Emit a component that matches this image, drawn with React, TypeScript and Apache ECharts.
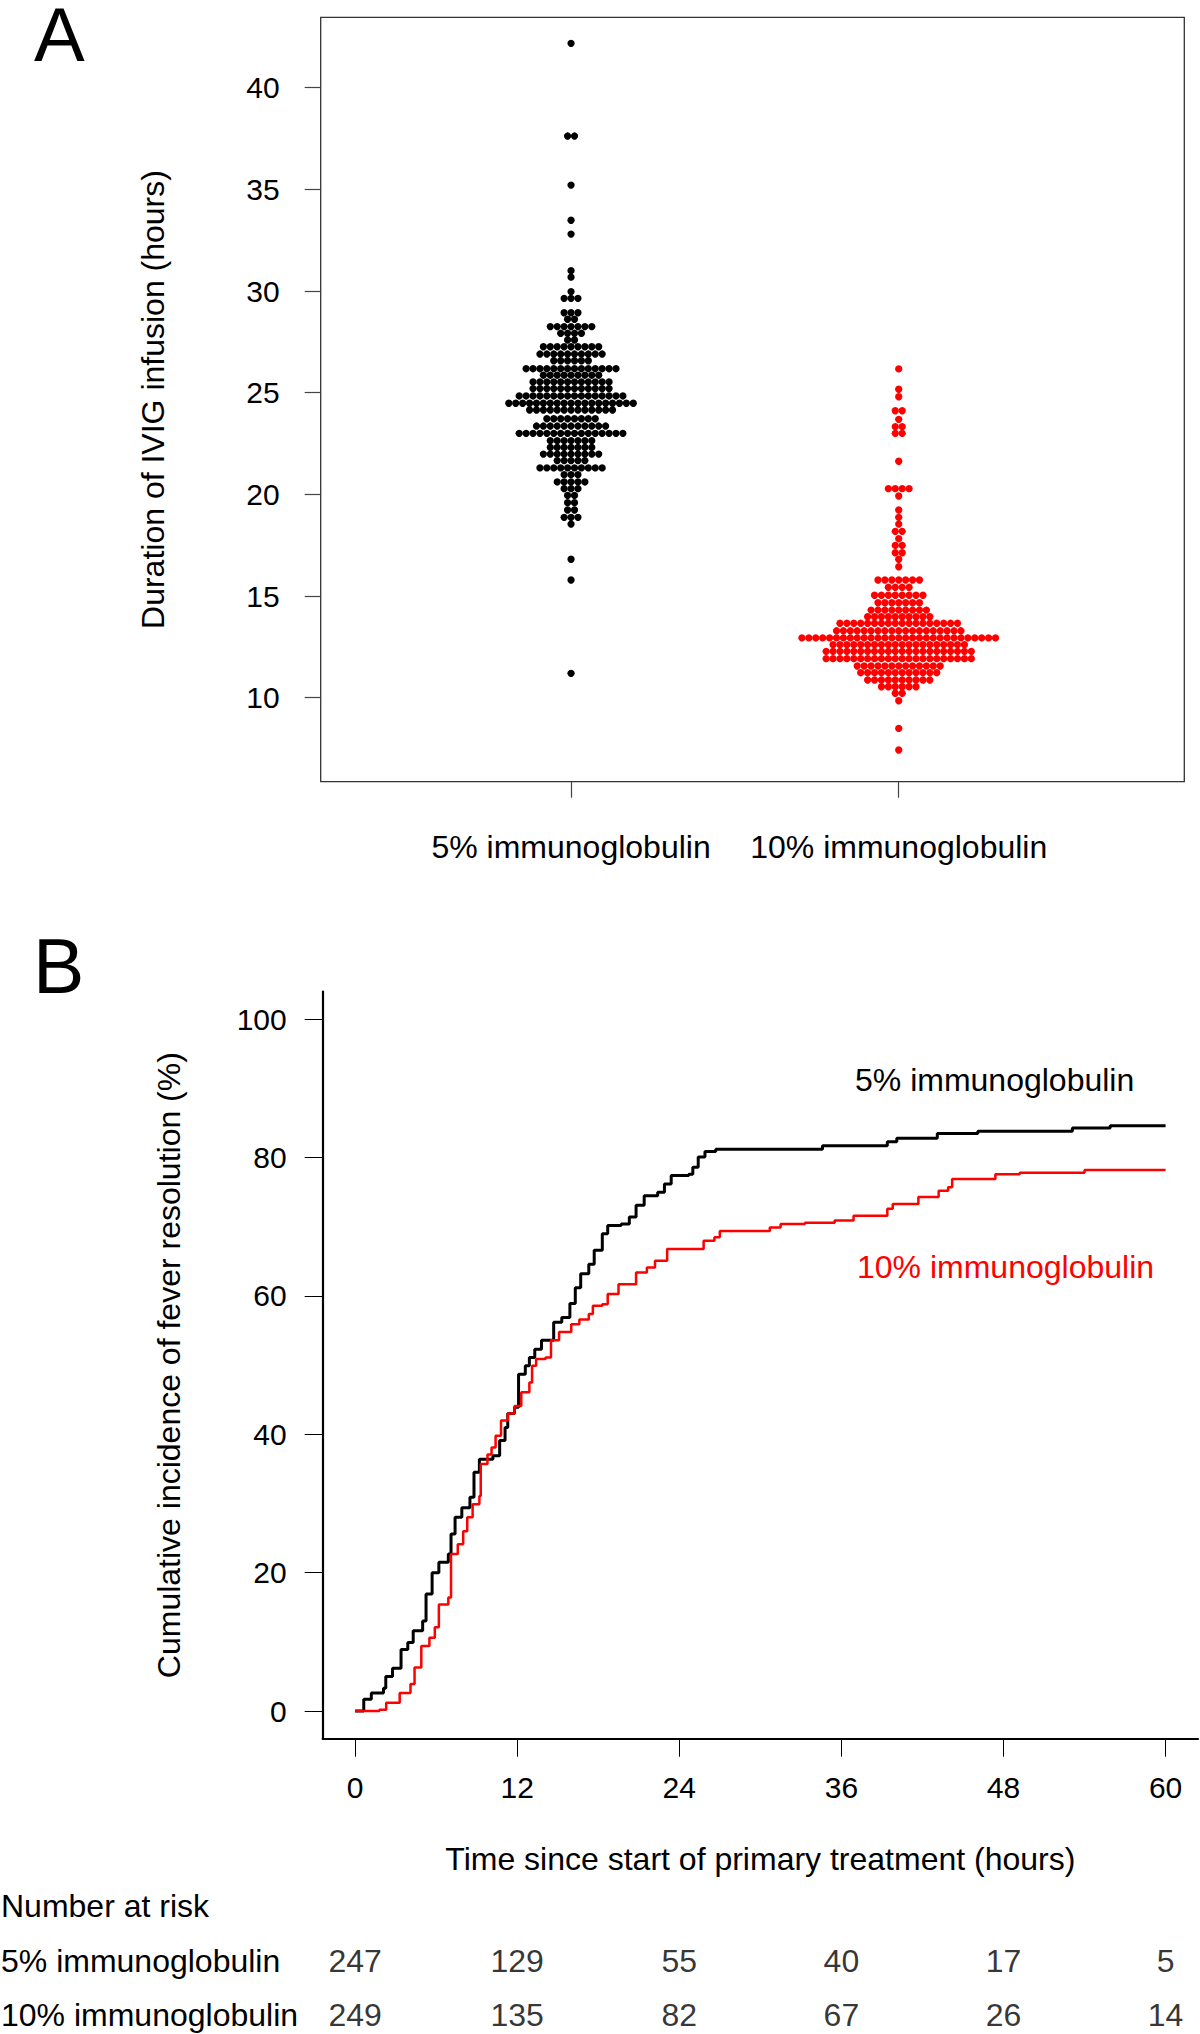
import { useEffect, useRef } from "react";
import * as echarts from "echarts";

const FONT = '"Liberation Sans", Arial, Helvetica, sans-serif';

// ---- Panel A: beeswarm rows (infusion duration in hours, dots in that row)
const groupNames = ["5% immunoglobulin", "10% immunoglobulin"];
const rowValues5 = [
  42.18, 37.62, 35.21, 33.48, 32.8, 31.0, 30.68, 29.97, 29.64, 28.93, 28.61, 28.25, 27.92, 27.59,
  27.26, 26.9, 26.57, 26.18, 25.86, 25.53, 25.2, 24.84, 24.48, 24.15, 23.72, 23.36, 23.0, 22.64,
  22.31, 21.98, 21.66, 21.3, 20.97, 20.61, 20.28, 19.95, 19.59, 19.23, 18.87, 18.54, 16.81, 15.79,
  11.2,
];
const rowCounts5 = [
  1, 2, 1, 1, 1, 1, 1, 1, 3, 3, 2, 7, 4, 2, 9, 10, 6, 14, 9, 12, 12, 16, 19, 13, 8, 11, 16, 7, 7,
  9, 5, 10, 3, 5, 3, 2, 2, 2, 3, 1, 1, 1, 1,
];
const rowValues10 = [
  26.17, 25.17, 24.8, 24.11, 23.69, 23.33, 23.0, 21.63, 20.28, 19.92, 19.23, 18.87, 18.54, 18.18,
  17.82, 17.49, 17.13, 16.81, 16.44, 15.79, 15.43, 15.04, 14.67, 14.31, 13.98, 13.66, 13.29, 12.94,
  12.61, 12.28, 11.92, 11.56, 11.23, 10.87, 10.54, 10.22, 9.85, 8.49, 7.43,
];
const rowCounts10 = [
  1, 1, 1, 2, 1, 2, 2, 1, 4, 1, 1, 1, 1, 2, 1, 2, 2, 1, 1, 7, 4, 8, 7, 9, 10, 18, 19, 29, 20, 22,
  22, 13, 12, 10, 6, 2, 1, 1, 1,
];
const yTicksA = [10, 15, 20, 25, 30, 35, 40];

// ---- Panel B: cumulative incidence of fever resolution (%)
const timeTicks = [0, 12, 24, 36, 48, 60];
const pctTicks = [0, 20, 40, 60, 80, 100];
const times5 = [
  0, 0.64, 1.2, 2.1, 2.27, 2.77, 3.4, 3.9, 4.3, 5.0, 5.25, 5.7, 6.2, 6.9, 7.1, 7.4, 7.9, 8.5, 8.8,
  9.2, 10.2, 10.7, 11.1, 11.3, 11.8, 12.1, 12.6, 12.9, 13.3, 13.8, 14.7, 15.3, 15.9, 16.3, 16.7,
  17.3, 17.7, 18.3, 18.7, 19.7, 20.3, 20.8, 21.4, 22.4, 22.9, 23.4, 24.7, 25.0, 25.4, 25.9, 26.7,
  34.6, 39.4, 40.1, 43.1, 46.1, 53.1, 55.9, 60,
];
const cum5 = [
  0, 1.7, 2.6, 3.3, 5.0, 6.2, 8.9, 9.9, 11.6, 13.0, 16.9, 20.0, 21.5, 22.7, 25.6, 28.0, 29.4, 30.9,
  34.5, 36.4, 36.9, 39.1, 41.0, 43.0, 43.9, 48.7, 49.9, 51.1, 52.3, 53.6, 56.2, 56.9, 58.9, 61.2,
  63.2, 64.6, 66.6, 69.0, 70.2, 70.4, 71.4, 73.1, 74.5, 75.0, 76.2, 77.4, 77.6, 78.6, 80.1, 80.9,
  81.2, 81.7, 82.3, 82.8, 83.5, 83.8, 84.3, 84.6, 84.6,
];
const times10 = [
  0, 1.8, 2.3, 3.3, 4.1, 4.4, 4.9, 5.5, 5.9, 6.2, 6.9, 7.1, 7.6, 8.0, 8.3, 8.7, 9.2, 9.3, 9.8,
  10.1, 10.4, 10.8, 11.3, 11.8, 12.3, 12.9, 13.1, 13.4, 14.1, 14.5, 15.1, 16.0, 16.6, 17.3, 17.6,
  18.3, 18.7, 19.5, 20.8, 21.6, 22.2, 23.1, 25.8, 26.6, 27.0, 30.7, 31.5, 33.3, 35.5, 36.9, 39.4,
  39.8, 41.7, 43.2, 43.9, 44.2, 47.4, 49.2, 54.0, 60,
];
const cum10 = [
  0, 0.2, 1.2, 2.6, 3.9, 6.3, 9.4, 10.6, 12.1, 15.4, 16.4, 22.7, 24.1, 26.0, 28.0, 29.9, 31.1,
  35.7, 37.1, 38.1, 39.8, 42.0, 43.0, 44.1, 46.1, 47.5, 49.9, 50.9, 51.1, 53.6, 54.8, 55.9, 56.6,
  57.4, 58.6, 58.8, 60.3, 61.7, 63.4, 64.1, 65.1, 66.8, 68.0, 68.5, 69.4, 69.9, 70.4, 70.6, 70.9,
  71.6, 72.6, 73.3, 74.3, 75.2, 75.7, 76.9, 77.6, 77.8, 78.2, 78.2,
];
const risk5 = [247, 129, 55, 40, 17, 5];
const risk10 = [249, 135, 82, 67, 26, 14];

const DOT_STEP = 0.0211; // horizontal distance between neighbouring dots (x units)

function swarm(center: number, values: number[], counts: number[]) {
  const pts: number[][] = [];
  values.forEach((v, r) => {
    const n = counts[r];
    for (let i = 0; i < n; i++) pts.push([center + (i - (n - 1) / 2) * DOT_STEP, v]);
  });
  return pts;
}

function label(text: string, x: number, y: number, size: number, fill = "#000") {
  return {
    type: "text",
    x,
    y,
    silent: true,
    style: {
      text,
      fill,
      fontSize: size,
      fontFamily: FONT,
      textAlign: "left",
      textVerticalAlign: "middle",
    },
  };
}

export default function App() {
  const chartRef = useRef<HTMLDivElement>(null);

  useEffect(() => {
    if (!chartRef.current) return;
    const chart = echarts.init(chartRef.current, null, { renderer: "svg" });

    const tickText = { fontSize: 30, fontFamily: FONT, color: "#000" };
    const nameText = { fontSize: 32, fontFamily: FONT, color: "#000", lineHeight: 32 };

    const option: any = {
      animation: false,
      backgroundColor: "#fff",
      grid: [
        {
          left: 320.7,
          top: 17.3,
          width: 863.6,
          height: 764.4,
          show: true,
          borderColor: "#333",
          borderWidth: 1.3,
        },
        { left: 322.7, top: 991.6, width: 875.3, height: 747.1 },
        { left: 322.7, top: 1933.5, width: 875.3, height: 87 },
      ],
      xAxis: [
        {
          type: "value",
          gridIndex: 0,
          min: 0.236,
          max: 2.8715,
          splitLine: { show: false },
          axisLine: { show: false },
          axisTick: { customValues: [1, 2], length: 16, lineStyle: { color: "#444", width: 1.2 } },
          axisLabel: {
            customValues: [1, 2],
            formatter: (v: number) => groupNames[Math.round(v) - 1] ?? "",
            margin: 49,
            fontSize: 32,
            fontFamily: FONT,
            color: "#000",
          },
        },
        {
          type: "value",
          gridIndex: 1,
          min: -2.4,
          max: 62.4,
          splitLine: { show: false },
          axisLine: { show: true, onZero: false, lineStyle: { color: "#000", width: 2.2 } },
          axisTick: { customValues: timeTicks, length: 18, lineStyle: { color: "#000", width: 1 } },
          axisLabel: { customValues: timeTicks, margin: 34, ...tickText },
          name: "Time since start of primary treatment (hours)",
          nameLocation: "middle",
          nameGap: 104,
          nameTextStyle: nameText,
        },
        { type: "value", gridIndex: 2, min: -2.4, max: 62.4, show: false },
      ],
      yAxis: [
        {
          type: "value",
          gridIndex: 0,
          min: 5.87,
          max: 43.46,
          splitLine: { show: false },
          axisLine: { show: false },
          axisTick: { customValues: yTicksA, length: 16, lineStyle: { color: "#444", width: 1.2 } },
          axisLabel: { customValues: yTicksA, margin: 41, ...tickText },
          name: "Duration of IVIG infusion (hours)",
          nameLocation: "middle",
          nameGap: 152,
          nameTextStyle: nameText,
        },
        {
          type: "value",
          gridIndex: 1,
          min: -4,
          max: 104,
          splitLine: { show: false },
          axisLine: { show: true, onZero: false, lineStyle: { color: "#000", width: 2.2 } },
          axisTick: { customValues: pctTicks, length: 18, lineStyle: { color: "#000", width: 1 } },
          axisLabel: { customValues: pctTicks, margin: 36, ...tickText },
          name: "Cumulative incidence of fever resolution (%)",
          nameLocation: "middle",
          nameGap: 138,
          nameTextStyle: nameText,
        },
        // rows of the risk table: 1.5 = 5% group, 0.5 = 10% group
        { type: "value", gridIndex: 2, min: 0.4, max: 2, show: false },
      ],
      series: [
        {
          type: "scatter",
          xAxisIndex: 0,
          yAxisIndex: 0,
          symbolSize: 7.3,
          itemStyle: { color: "#000", opacity: 1 },
          data: swarm(1, rowValues5, rowCounts5),
        },
        {
          type: "scatter",
          xAxisIndex: 0,
          yAxisIndex: 0,
          symbolSize: 7.3,
          itemStyle: { color: "#ff0000", opacity: 1 },
          data: swarm(2, rowValues10, rowCounts10),
        },
        {
          type: "line",
          xAxisIndex: 1,
          yAxisIndex: 1,
          step: "end",
          showSymbol: false,
          lineStyle: { color: "#000", width: 3 },
          data: times5.map((t, i) => [t, cum5[i]]),
        },
        {
          type: "line",
          xAxisIndex: 1,
          yAxisIndex: 1,
          step: "end",
          showSymbol: false,
          lineStyle: { color: "#ff0000", width: 2.5 },
          data: times10.map((t, i) => [t, cum10[i]]),
        },
        {
          type: "scatter",
          xAxisIndex: 2,
          yAxisIndex: 2,
          symbolSize: 1,
          itemStyle: { color: "transparent" },
          label: {
            show: true,
            position: "inside",
            formatter: (p: any) => String(p.data.n),
            fontSize: 32,
            fontFamily: FONT,
            color: "#000",
          },
          data: [
            ...risk5.map((n, i) => ({ value: [timeTicks[i], 1.5], n })),
            ...risk10.map((n, i) => ({ value: [timeTicks[i], 0.5], n })),
          ],
        },
      ],
      graphic: [
        label("A", 34, 34, 76),
        label("B", 33, 966, 77),
        label("5% immunoglobulin", 855, 1080, 32),
        label("10% immunoglobulin", 857, 1267, 32, "#ff0000"),
        label("Number at risk", 1, 1906, 32),
        label(groupNames[0], 1, 1961, 32),
        label(groupNames[1], 1, 2015, 32),
      ],
    };

    chart.setOption(option);
    return () => chart.dispose();
  }, []);

  return (
    <div
      ref={chartRef}
      style={{ position: "absolute", left: 0, top: 0, width: 1200, height: 2034 }}
    />
  );
}
